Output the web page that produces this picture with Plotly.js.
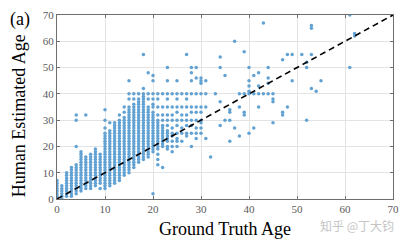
<!DOCTYPE html>
<html>
<head>
<meta charset="utf-8">
<script src="https://cdn.plot.ly/plotly-3.0.1.min.js"></script>
<style>html,body{margin:0;padding:0;background:#fff;}#chart{width:407px;height:241px;}</style>
</head>
<body>
<div id="chart"></div>
<script>
// Ground-truth ages with dense columns of human estimates
const truthAge = [0,1,2,3,4,5,6,7,8,9,10,11,12,13,14,15,16,17,18,19,20,21,22,23,24,25,26,27,28,29,30];
const estimatedAges = [
  [0,1,2,3,4,5,6,7],
  [0,1,2,3,4,5],
  [1,2,3,4,5,6,7,8,9,10],
  [1,2,3,4,5,6,7,8,9,10,11,12],
  [2,3,4,5,6,7,8,9,10,11,12,13,20,30,32],
  [3,4,5,6,7,8,9,10,11,12,13,14,15,16,17,18],
  [4,5,6,7,8,9,10,11,12,13,14,15,16,32],
  [4,5,6,7,8,9,10,11,12,13,14,15,16,17],
  [5,6,7,8,9,10,11,12,13,14,15,16,17,18,19],
  [4,6,7,8,9,10,11,12,13,14,15,16,17],
  [4,5,6,7,8,9,10,11,12,13,14,15,16,17,18,19,20,21,22,23,24,25,27,30,34],
  [5,6,7,8,9,10,11,12,13,14,15,16,17,18,19,20,21,22,23,24,25,26,29],
  [6,7,8,9,10,11,12,13,14,15,16,17,18,19,20,21,22,23,24,25,26,27,28,29],
  [7,8,9,10,11,12,13,14,15,16,17,18,19,20,21,22,23,24,25,26,27,28,29,30,32],
  [9,10,11,12,13,14,15,16,17,18,19,20,21,22,23,24,25,26,27,28,29,30,31,33,35],
  [10,11,12,13,14,15,16,17,18,19,20,21,22,23,24,25,26,27,28,29,30,31,32,33,34,35,38,40,45],
  [12,13,14,15,16,17,18,19,20,21,22,23,24,25,26,27,28,29,30,31,32,33,34,35,36,38,40],
  [14,15,16,17,18,19,20,21,22,23,24,25,26,27,28,29,30,31,32,33,34,35,36,37,38,40],
  [15,16,17,18,19,20,21,22,23,24,25,26,27,28,29,30,31,32,33,34,35,36,37,38,39,40,42,55],
  [16,17,18,19,20,21,22,23,24,25,26,27,28,29,30,31,32,33,34,35,38,40,48],
  [2,18,19,20,21,22,23,24,25,26,27,28,29,30,31,32,33,35,36,38,40,45,47],
  [13,15,17,19,20,21,22,23,24,25,26,27,28,29,30,32,35,38,40],
  [12,20,21,22,23,24,25,26,27,28,30,32,35,40],
  [19,20,22,23,24,25,26,28,30,32,35,38,40,45,50],
  [18,20,22,24,25,27,30,32,35,40],
  [20,22,23,25,28,30,33,35,38,40,45],
  [22,25,27,30,32,35,40],
  [24,25,28,30,32,35,38,40,55],
  [20,25,28,30,33,35,40,45,48,50],
  [23,25,27,30,33,35,40,46,50],
  [25,27,29,30,33,35,40,44,45,46]
];
// Sparse estimates for older subjects
const sparseTruth = [31,31,31,31,32,33,34,34,34,34,35,35,36,36,36,36,37,37,38,38,38,39,39,39,39,40,40,40,40,40,40,41,41,41,42,42,42,42,43,43,44,44,44,44,45,45,45,45,47,47,47,48,48,49,49,51,52,52,52,53,53,53,53,54,55,61,61,62,62];
const sparseEst   = [23,35,40,45,16,40,28,37,50,54,30,47,22,30,33,34,27,60,24,35,40,32,33,40,56,25,40,41,43,45,50,27,40,47,35,40,43,48,40,67,40,44,46,50,29,37,38,40,32,33,53,35,55,45,55,55,30,50,52,42,55,65,66,41,45,50,70,62,63];
const diagonal = [0,70];
const tickVals = [0,10,20,30,40,50,60,70];

const xs = [], ys = [];
truthAge.forEach((t,i)=>{ estimatedAges[i].forEach(e=>{ xs.push(t); ys.push(e); }); });
sparseTruth.forEach((t,i)=>{ xs.push(t); ys.push(sparseEst[i]); });

const serif = 'Liberation Serif, Times New Roman, serif';
const axisCommon = {
  range:[0,70], tickvals: tickVals, showgrid:true, gridcolor:'#e3e3e3', gridwidth:1,
  zeroline:false, showline:true, linecolor:'#6e6e6e', linewidth:1, mirror:'ticks',
  ticks:'inside', ticklen:3, tickcolor:'#6e6e6e',
  tickfont:{family:serif, size:11, color:'#5a5a5a'}, fixedrange:true
};
const data = [
  {x:xs, y:ys, type:'scatter', mode:'markers', marker:{size:3.5, color:'#62a2d3'}, hoverinfo:'skip'},
  {x:diagonal, y:diagonal, type:'scatter', mode:'lines', line:{color:'#000', width:1.6, dash:'6px,4px'}, hoverinfo:'skip'}
];
const layout = {
  width:407, height:241, margin:{l:57, r:14, t:15, b:42},
  paper_bgcolor:'#fff', plot_bgcolor:'#fff', showlegend:false,
  xaxis: Object.assign({}, axisCommon, {title:{text:'Ground Truth Age', font:{family:serif, size:18, color:'#000'}, standoff:8}}),
  yaxis: Object.assign({}, axisCommon, {title:{text:''}}),
  annotations:[
    {text:'Human Estimated Age', xref:'paper', yref:'paper', x:-0.113, y:0.45, xanchor:'center', yanchor:'middle', textangle:-90, showarrow:false, font:{family:serif, size:18, color:'#000'}},
    {text:'(a)', xref:'paper', yref:'paper', x:-0.145, y:1.045, xanchor:'left', yanchor:'top', showarrow:false, font:{family:serif, size:18, color:'#000'}},
    {text:'知乎 @丁大钧', xref:'paper', yref:'paper', x:1.01, y:-0.145, xanchor:'right', yanchor:'middle', showarrow:false, font:{family:'Noto Sans CJK SC, sans-serif', size:12, color:'#c4c4c4'}}
  ]
};
Plotly.newPlot('chart', data, layout, {staticPlot:true});
</script>
</body>
</html>
